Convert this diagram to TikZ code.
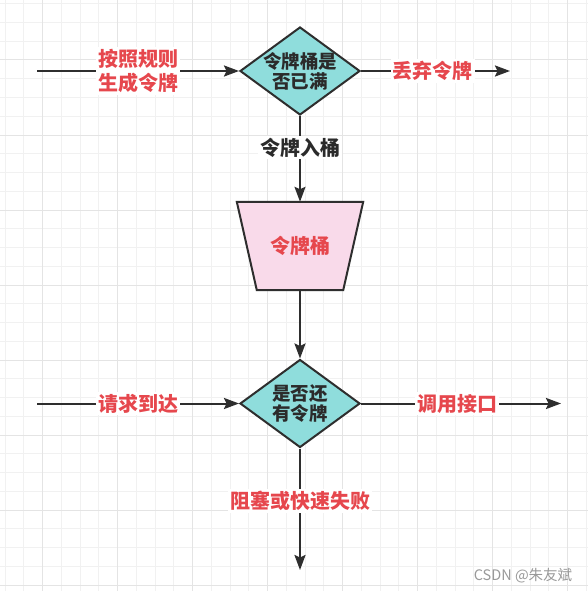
\documentclass[tikz,border=0pt]{standalone}
\usepackage{fontspec}
\newfontfamily\cjk{Noto Sans CJK SC}
\usetikzlibrary{shapes.geometric,arrows.meta,backgrounds}
\definecolor{gridminor}{HTML}{F1F1F1}
\definecolor{gridmajor}{HTML}{E4E4E4}
\definecolor{edgec}{HTML}{2E2E2E}
\definecolor{redtxt}{HTML}{E6474D}
\definecolor{cyanfill}{HTML}{8FDDDC}
\definecolor{pinkfill}{HTML}{F9DAEA}
\definecolor{darktxt}{HTML}{2B2B2B}
\tikzset{
  decision/.style={diamond,aspect=1.36,inner sep=-3pt,minimum width=120pt,minimum height=88pt,
    draw=edgec,line width=2pt,fill=cyanfill,align=center,text=darktxt,
    font=\cjk\bfseries\fontsize{18.5}{20}\selectfont},
  bucketbox/.style={rectangle,minimum width=126pt,minimum height=88pt,inner sep=0pt,
    text=redtxt,font=\cjk\bfseries\fontsize{20}{22}\selectfont},
  bucketshape/.style={draw=edgec,line width=2pt,fill=pinkfill,line join=miter},
  lab/.style={fill=white,inner sep=2pt,align=center,text=redtxt,
    font=\cjk\bfseries\fontsize{20}{24}\selectfont},
  conn/.style={draw=edgec,line width=2pt},
  arr/.style={conn,-{Stealth[length=15pt,width=11pt,inset=2.5pt]}},
}
\begin{document}
\begin{tikzpicture}[x=1pt,y=-1pt]
\useasboundingbox (0,0) rectangle (588,591);
\begin{scope}[on background layer]
\fill[white] (0,0) rectangle (588,591);
% grid
\foreach \i in {0,...,31} {\draw[gridminor,line width=1pt] ({5.2+18.75*\i},0) -- ({5.2+18.75*\i},591);}
\foreach \i in {0,...,31} {\draw[gridminor,line width=1pt] (0,{3.75+18.75*\i}) -- (588,{3.75+18.75*\i});}
\foreach \i in {0,...,7} {\draw[gridmajor,line width=1pt] ({42.7+75*\i},0) -- ({42.7+75*\i},591);}
\foreach \i in {0,...,7} {\draw[gridmajor,line width=1pt] (0,{60+75*\i}) -- (588,{60+75*\i});}
\end{scope}
% nodes
\node[decision] (d1) at (300,71) {令牌桶是\\否已满};
\node[bucketbox] (b) at (300,246) {令牌桶};
\begin{scope}[on background layer]
\draw[bucketshape] (b.north west) -- (b.north east) -- ([xshift=-20pt]b.south east) -- ([xshift=20pt]b.south west) -- cycle;
\end{scope}
\node[decision] (d2) at (300,403.5) {是否还\\有令牌};
\coordinate (s1) at (37,71);
\coordinate (e1) at (510,71);
\coordinate (s2) at (37,403.5);
\coordinate (e2) at (561,403.5);
\coordinate (e3) at (300,570);
% connectors
\draw[arr] (s1) -- node[lab,pos=0.5] {按照规则\\生成令牌} (d1.west);
\draw[arr] (d1.east) -- node[lab,pos=0.48] {丢弃令牌} (e1);
\draw[arr] (d1.south) -- node[lab,pos=0.37,text=darktxt] {令牌入桶} (b.north);
\draw[arr] (b.south) -- (d2.north);
\draw[arr] (s2) -- node[lab,pos=0.5] {请求到达} (d2.west);
\draw[arr] (d2.east) -- node[lab,pos=0.48] {调用接口} (e2);
\draw[arr] (d2.south) -- node[lab,pos=0.43] {阻塞或快速失败} (e3);
% watermark
\node[text=black!40,font=\cjk\fontsize{14.5}{16}\selectfont,inner sep=0pt] (wm) at (523,576) {CSDN @朱友斌};
\end{tikzpicture}
\end{document}
